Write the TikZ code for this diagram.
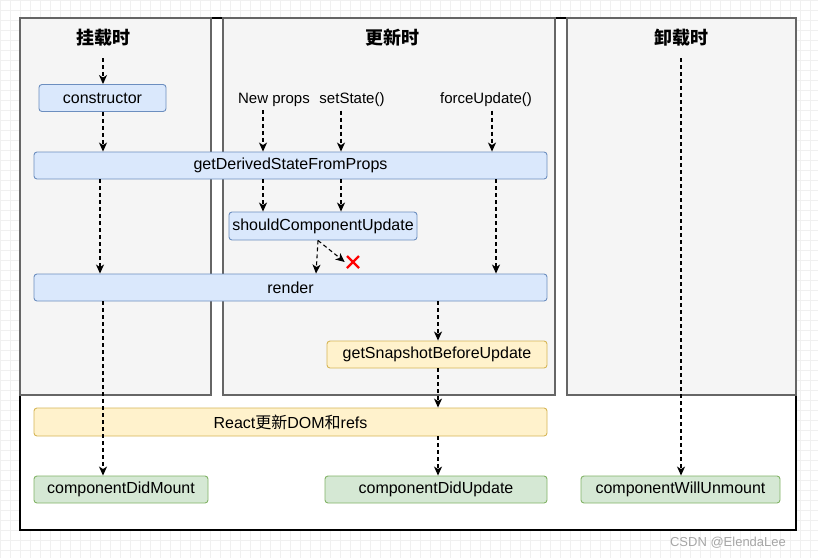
\documentclass[tikz,border=0pt]{standalone}
\usepackage{fontspec}
\setmainfont{Liberation Sans}
\newfontfamily\cjk{Noto Sans CJK SC}
\usetikzlibrary{arrows.meta}
\definecolor{bf}{HTML}{DAE8FC}\definecolor{bs}{HTML}{6C8EBF}
\definecolor{yf}{HTML}{FFF2CC}\definecolor{ys}{HTML}{D6B656}
\definecolor{gf}{HTML}{D5E8D4}\definecolor{gs}{HTML}{82B366}
\definecolor{pf}{HTML}{F5F5F5}\definecolor{ps}{HTML}{666666}
\begin{document}
\begin{tikzpicture}[x=1pt,y=-1pt,
 box/.style={draw,rounded corners=3pt,minimum height=27pt,inner sep=0pt,font=\fontsize{16}{18}\selectfont,line width=0.9pt},
 blue/.style={box,fill=bf,draw=bs},yel/.style={box,fill=yf,draw=ys},grn/.style={box,fill=gf,draw=gs},
 panel/.style={fill=pf,draw=ps,line width=1.1pt},
 ttl/.style={font=\cjk\bfseries\fontsize{18}{20}\selectfont},
 lbl/.style={font=\fontsize{15}{17}\selectfont},
 arr/.style={-{Stealth[length=9pt,width=8pt,inset=2.5pt]},dash pattern=on 4pt off 3pt,line width=1.1pt}]
\useasboundingbox (0,0) rectangle (818,558);
\fill[white] (0,0) rectangle (818,558);
\draw[gray!12,step=10pt] (0,0) grid (818,558);
\draw[black,line width=1.1pt,fill=white] (20,18) rectangle (796,530);
\draw[panel] (20,18) rectangle (211,395);
\draw[panel] (223,18) rectangle (555,395);
\draw[panel] (567,18) rectangle (796,395);
\node[ttl] (t1) at (103,38) {挂载时};
\node[ttl] (t2) at (392,38) {更新时};
\node[ttl] (t3) at (681,38) {卸载时};
\node[blue,minimum width=127pt] (cons) at (102.5,98) {constructor};
\node[blue,minimum width=513pt] (gd) at (290.5,165.5) {getDerivedStateFromProps};
\node[blue,minimum width=188pt,minimum height=28pt] (scu) at (323,226) {shouldComponentUpdate};
\node[blue,minimum width=513pt] (rd) at (290.5,287.5) {render};
\node[yel,minimum width=220pt] (gs) at (437,354.5) {getSnapshotBeforeUpdate};
\node[yel,minimum width=513pt,minimum height=28pt] (dom) at (290.5,422) {React{\cjk 更新}DOM{\cjk 和}refs};
\node[grn,minimum width=174pt] (cdm) at (121,489.5) {componentDidMount};
\node[grn,minimum width=222pt] (cdu) at (436,489.5) {componentDidUpdate};
\node[grn,minimum width=199pt] (cwu) at (680.5,489.5) {componentWillUnmount};
\node[lbl] (np) at (274,100) {New props};
\node[lbl] (ss) at (352,100) {setState()};
\node[lbl] (fu) at (486,100) {forceUpdate()};
\node[text=red,inner sep=1pt] (x) at (353,262) {\tikz[x=1pt,y=1pt]{\draw[red,line width=2.2pt] (-6,-6)--(6,6) (-6,6)--(6,-6);}};
\coordinate (m0) at (103,58);\coordinate (u0) at (681,58);
\draw[arr] (m0) -- (cons.north -| m0);
\draw[arr] (cons.south -| m0) -- (gd.north -| m0);
\draw[arr] (gd.south -| 100,0) -- (rd.north -| 100,0);
\draw[arr] (rd.south -| m0) -- (cdm.north -| m0);
\draw[arr] (np.south -| 263,0) -- (gd.north -| 263,0);
\draw[arr] (ss.south -| 341,0) -- (gd.north -| 341,0);
\draw[arr] (fu.south -| 492,0) -- (gd.north -| 492,0);
\draw[arr] (gd.south -| 263,0) -- (scu.north -| 263,0);
\draw[arr] (gd.south -| 341,0) -- (scu.north -| 341,0);
\draw[arr] (gd.south -| 496,0) -- (rd.north -| 496,0);
\draw[arr] (scu.south -| 318,0) -- (rd.north -| 316,0);
\draw[arr] (scu.south -| 318,0) -- (x.west);
\draw[arr] (rd.south -| 438,0) -- (gs.north -| 438,0);
\draw[arr] (gs.south -| 438,0) -- (dom.north -| 438,0);
\draw[arr] (dom.south -| 438,0) -- (cdu.north -| 438,0);
\draw[arr] (u0) -- (cwu.north -| u0);
\node[text=gray!70,font=\fontsize{13}{15}\selectfont] (wm) at (728,543) {CSDN @ElendaLee};
\end{tikzpicture}
\end{document}
